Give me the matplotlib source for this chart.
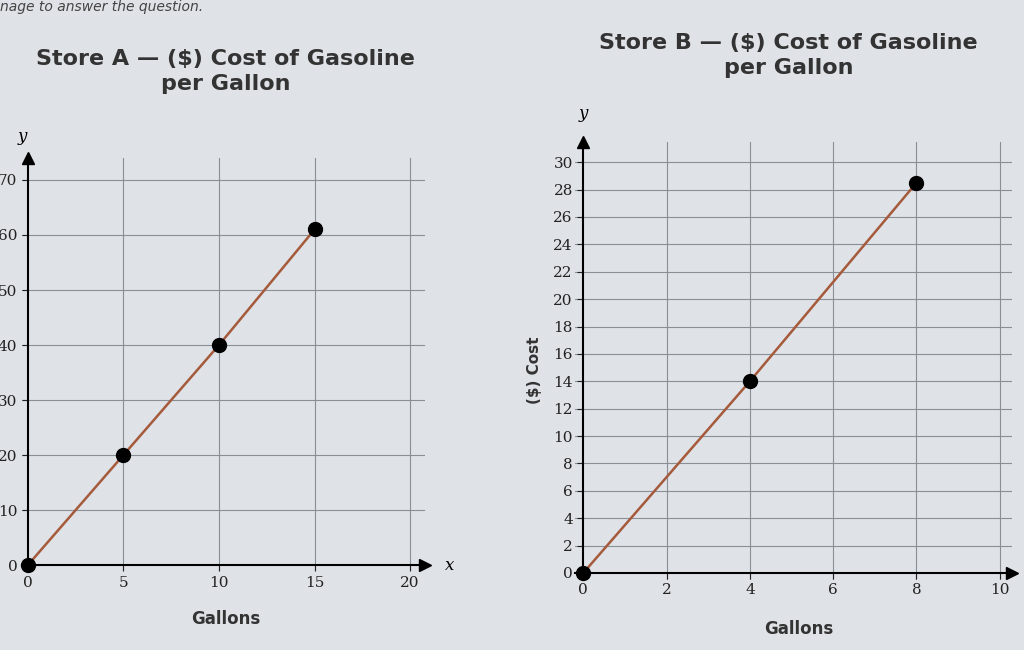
import matplotlib.pyplot as plt

# Store A data
a_gallons = [0, 5, 10, 15]
a_cost = [0, 20, 40, 61]
a_xticks = [0, 5, 10, 15, 20]
a_yticks = [0, 10, 20, 30, 40, 50, 60, 70]

# Store B data
b_gallons = [0, 4, 8]
b_cost = [0, 14, 28.5]
b_xticks = [0, 2, 4, 6, 8, 10]
b_yticks = list(range(0, 31, 2))

bg = '#dfe2e6'
line_c = '#a65a3c'
grid_c = '#8a8f96'
serif = 'DejaVu Serif'

fig = plt.figure(figsize=(10.24, 6.5), dpi=100, facecolor=bg)


def style(ax, xticks, yticks, xlim, ylim):
    ax.set_facecolor(bg)
    ax.set_xlim(*xlim)
    ax.set_ylim(*ylim)
    ax.set_xticks(xticks)
    ax.set_yticks(yticks)
    for t in xticks[1:]:
        ax.axvline(t, color=grid_c, lw=0.8, zorder=0)
    for t in yticks[1:]:
        ax.axhline(t, color=grid_c, lw=0.8, zorder=0)
    for s in ['top', 'right']:
        ax.spines[s].set_visible(False)
    ax.spines['left'].set_position(('data', 0))
    ax.spines['bottom'].set_position(('data', 0))
    ax.spines['left'].set_linewidth(1.5)
    ax.spines['bottom'].set_linewidth(1.5)
    ax.tick_params(labelsize=11, colors='#222', length=4)
    for lab in ax.get_xticklabels() + ax.get_yticklabels():
        lab.set_family(serif)
    ax.plot(1, 0, '>k', ms=9, transform=ax.get_yaxis_transform(), clip_on=False)
    ax.plot(0, 1, '^k', ms=9, transform=ax.get_xaxis_transform(), clip_on=False)


axA = fig.add_axes([0.0215, 0.122, 0.394, 0.635])
style(axA, a_xticks, a_yticks, (-0.3, 20.8), (-1, 74))
axA.plot(a_gallons, a_cost, color=line_c, lw=1.8, zorder=2)
axA.plot(a_gallons, a_cost, 'o', color='black', ms=10, zorder=3, clip_on=False)
axA.text(21.8, 0, 'x', family=serif, style='italic', fontsize=12, va='center')
axA.text(-0.3, 77, 'y', family=serif, style='italic', fontsize=12, ha='center')

axB = fig.add_axes([0.5615, 0.108, 0.427, 0.674])
style(axB, b_xticks, b_yticks, (-0.2, 10.3), (-0.5, 31.5))
axB.plot(b_gallons, b_cost, color=line_c, lw=1.8, zorder=2)
axB.plot(b_gallons, b_cost, 'o', color='black', ms=10, zorder=3, clip_on=False)
axB.text(0, 33.2, 'y', family=serif, style='italic', fontsize=12, ha='center')

fig.text(0.22, 0.04, 'Gallons', ha='center', fontsize=12, fontweight='bold', color='#333')
fig.text(0.78, 0.025, 'Gallons', ha='center', fontsize=12, fontweight='bold', color='#333')
fig.text(0.522, 0.43, '($) Cost', rotation=90, ha='center', va='center',
         fontsize=11, fontweight='bold', color='#333')

fig.text(0.22, 0.89, 'Store A — ($) Cost of Gasoline\nper Gallon', ha='center', va='center',
         fontsize=16, fontweight='bold', color='#333', linespacing=1.3)
fig.text(0.77, 0.915, 'Store B — ($) Cost of Gasoline\nper Gallon', ha='center', va='center',
         fontsize=16, fontweight='bold', color='#333', linespacing=1.3)
fig.text(0.0, 0.99, 'nage to answer the question.', style='italic', fontsize=10,
         color='#444', va='center')

fig.savefig('out.png', dpi=100, facecolor=bg)
